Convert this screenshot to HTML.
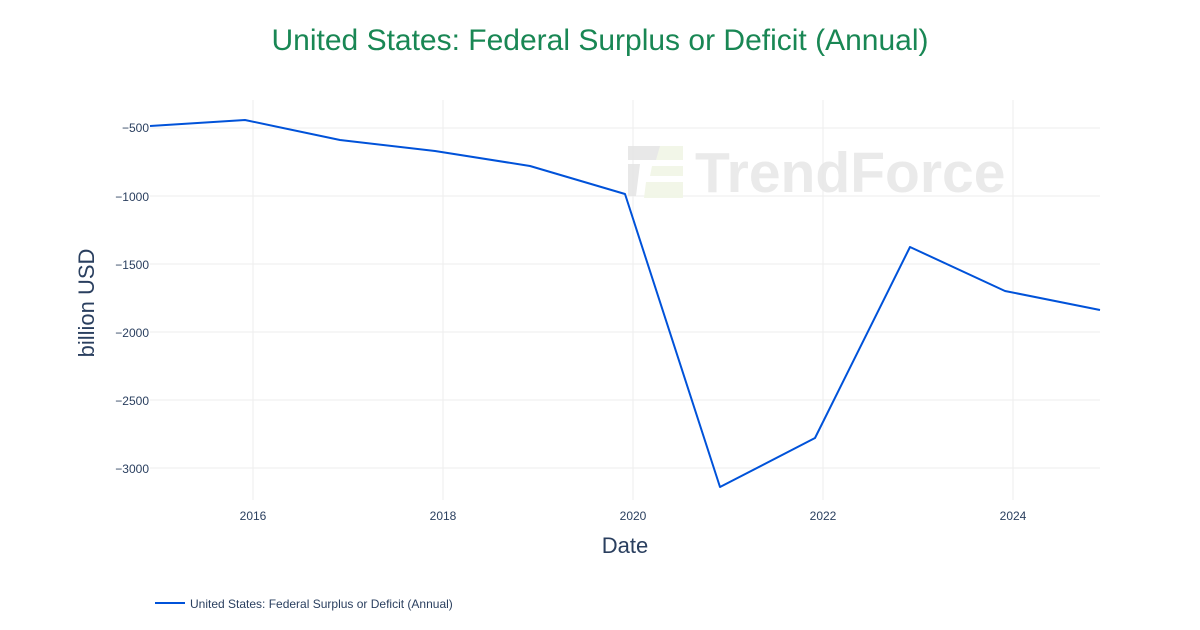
<!DOCTYPE html>
<html><head><meta charset="utf-8"><style>
body{margin:0;background:#fff;}
svg{display:block;font-family:"Liberation Sans",sans-serif;}
</style></head><body>
<svg width="1200" height="630" viewBox="0 0 1200 630">
<rect width="1200" height="630" fill="#fff"/>
<g stroke="#eeeeee" stroke-width="1">
<line x1="253" y1="100" x2="253" y2="500"/><line x1="443" y1="100" x2="443" y2="500"/>
<line x1="633" y1="100" x2="633" y2="500"/><line x1="823" y1="100" x2="823" y2="500"/>
<line x1="1013" y1="100" x2="1013" y2="500"/>
<line x1="150" y1="128" x2="1100" y2="128"/><line x1="150" y1="196" x2="1100" y2="196"/>
<line x1="150" y1="264" x2="1100" y2="264"/><line x1="150" y1="332" x2="1100" y2="332"/>
<line x1="150" y1="400" x2="1100" y2="400"/><line x1="150" y1="468" x2="1100" y2="468"/>
</g>
<g opacity="0.9">
<polygon points="628,146 662,146 658,160 628,160" fill="#e6e6e6"/>
<polygon points="628,164 640,164 636,196 628,196" fill="#e6e6e6"/>
<polygon points="660,146 683,146 683,160 656,160" fill="#f1f6e6"/>
<polygon points="652,166 683,166 683,176 650,176" fill="#f1f6e6"/>
<polygon points="646,182 683,182 683,198 644,198" fill="#f1f6e6"/>
<text x="695" y="192" font-size="57" font-weight="bold" fill="#e8e8e8">TrendForce</text>
</g>
<polyline fill="none" stroke="#0052d9" stroke-width="2" stroke-linejoin="round" points="150,126 245,120 340,140 435,151 530,166 625,194 720,487 815,438 910,247 1005,291 1100,310"/>
<g font-size="12" fill="#2a3f5f" text-anchor="end">
<text x="149" y="132">−500</text><text x="149" y="201">−1000</text><text x="149" y="269">−1500</text>
<text x="149" y="337">−2000</text><text x="149" y="405">−2500</text><text x="149" y="473">−3000</text>
</g>
<g font-size="12" fill="#2a3f5f" text-anchor="middle">
<text x="253" y="520">2016</text><text x="443" y="520">2018</text><text x="633" y="520">2020</text>
<text x="823" y="520">2022</text><text x="1013" y="520">2024</text>
</g>
<text x="625" y="553" font-size="22" fill="#2a3f5f" text-anchor="middle">Date</text>
<text transform="translate(94,303) rotate(-90)" font-size="22" fill="#2a3f5f" text-anchor="middle">billion USD</text>
<text x="600" y="50" font-size="30" fill="#198754" text-anchor="middle">United States: Federal Surplus or Deficit (Annual)</text>
<line x1="155" y1="603" x2="185" y2="603" stroke="#0052d9" stroke-width="2"/>
<text x="190" y="608" font-size="12" fill="#2a3f5f">United States: Federal Surplus or Deficit (Annual)</text>
</svg>
</body></html>
